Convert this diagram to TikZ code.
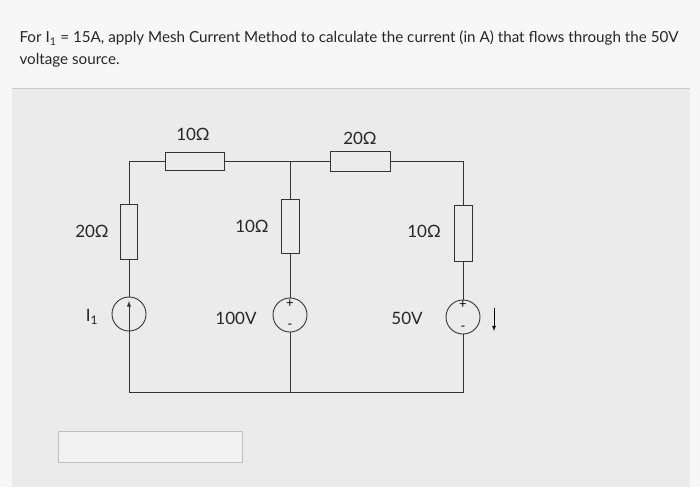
\documentclass[tikz,border=0pt]{standalone}
\usepackage{fontspec}
\setmainfont{Lato}
\begin{document}
\begin{tikzpicture}[x=1pt,y=-1pt,
  wire/.style={draw=black!80,line width=0.9pt},
  res/.style={draw=black!80,line width=0.9pt,fill=none,inner sep=0pt},
  src/.style={draw=black!80,line width=0.9pt,circle,minimum size=34pt,inner sep=0pt},
  lbl/.style={font=\fontsize{17}{19}\selectfont,text=black!85},
  pm/.style={font=\fontsize{13}{13}\selectfont,inner sep=0pt}]
\fill[black!3] (0,0) rectangle (700,487);
\fill[black!8] (12,88) rectangle (690,487);
\draw[black!20] (12,88) -- (690,88);
\node[anchor=west,font=\fontsize{15.2}{18}\selectfont,text=black!85] (q1) at (16,38) {For I\textsubscript{1} = 15A, apply Mesh Current Method to calculate the current (in A) that flows through the 50V};
\node[anchor=west,font=\fontsize{15.2}{18}\selectfont,text=black!85] (q2) at (16,60) {voltage source.};
% components
\node[res,minimum width=59pt,minimum height=18pt] (r1) at (195,161) {};
\node[res,minimum width=60pt,minimum height=20pt] (r2) at (360,161) {};
\node[res,minimum width=17pt,minimum height=55pt] (r3) at (129,232) {};
\node[res,minimum width=18pt,minimum height=54pt] (r4) at (290,226) {};
\node[res,minimum width=18pt,minimum height=56pt] (r5) at (463,233) {};
\node[src] (s1) at (129,314) {};
\node[src] (s2) at (290,315) {};
\node[src] (s3) at (463,317) {};
\coordinate (tl) at (129,161);
\coordinate (tm) at (290,161);
\coordinate (tr) at (463,161);
\coordinate (bl) at (129,392);
\coordinate (bm) at (290,392);
\coordinate (br) at (463,392);
\coordinate (s1top) at (129,301);
\draw[wire] (r3.north) -- (tl) -- (r1.west);
\draw[wire] (r1.east) -- (r2.west);
\draw[wire] (tm) -- (r4.north);
\draw[wire] (r2.east) -- (tr) -- (r5.north);
\draw[wire] (r3.south) -- (s1.north);
\draw[wire] (r4.south) -- (s2.north);
\draw[wire] (r5.south) -- (s3.north);
\draw[wire] (s1.south) -- (bl) -- (br) -- (s3.south);
\draw[wire] (s2.south) -- (bm);
\draw[wire,-latex] (s1.south) -- (s1top);
\node[pm] (p2) at (290,304) {+};
\node[pm] (m2) at (290,326) {-};
\node[pm] (p3) at (463,305) {+};
\node[pm] (m3) at (463,328) {-};
\coordinate (a1) at (494,308);
\coordinate (a2) at (494,331);
\draw[line width=0.8pt,-latex] (a1) -- (a2);
% labels
\node[lbl] (l1) at (193,134) {10Ω};
\node[lbl] (l2) at (360,138) {20Ω};
\node[lbl] (l3) at (92,231) {20Ω};
\node[lbl] (l4) at (252,226) {10Ω};
\node[lbl] (l5) at (424,231) {10Ω};
\node[lbl] (l6) at (92,317) {I\textsubscript{1}};
\node[lbl] (l7) at (236,318) {100V};
\node[lbl] (l8) at (407,318) {50V};
\node[draw=black!25,fill=black!5,minimum width=184pt,minimum height=31pt,inner sep=0pt] (ans) at (150,447) {};
\end{tikzpicture}
\end{document}
